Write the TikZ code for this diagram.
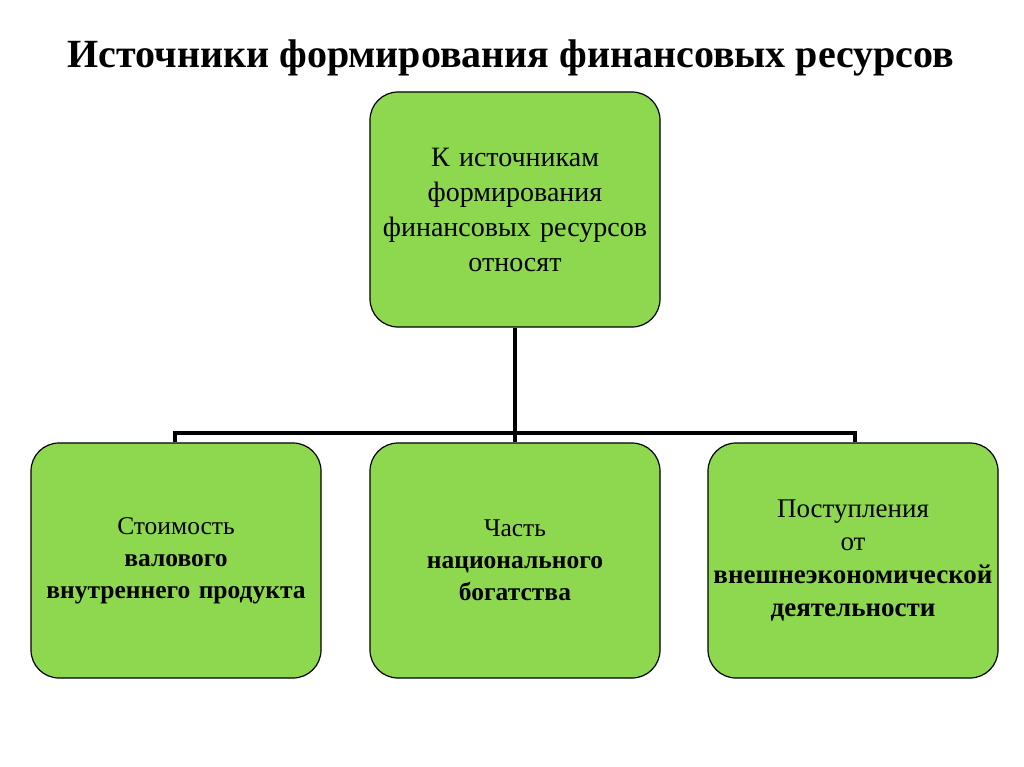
\documentclass[tikz,border=0pt]{standalone}
\usepackage{fontspec}
\setmainfont{Liberation Serif}
\definecolor{boxgreen}{HTML}{8DD84E}
\begin{document}
\begin{tikzpicture}[x=1pt,y=-1pt,
  gbox/.style={draw=black,line width=1.2pt,fill=boxgreen,rounded corners=28pt,minimum width=290pt,minimum height=235pt,inner sep=1pt,align=center,font=\fontsize{28}{35}\selectfont,text width=286pt},
  conn/.style={line width=4pt}]
\useasboundingbox[fill=white] (0,0) rectangle (1024,767);
\node[font=\fontsize{40}{44}\selectfont\bfseries] (title) at (511,58) {Источники формирования финансовых ресурсов};
\node[gbox] (top) at (515,209.5) {К источникам\\формирования\\финансовых ресурсов\\относят};
\node[gbox,font=\fontsize{25.5}{32}\selectfont] (b1) at (176,560.5) {Стоимость\\\textbf{валового}\\\textbf{внутреннего продукта}};
\node[gbox,font=\fontsize{25.5}{32}\selectfont] (b2) at (515,560.5) {Часть\\\textbf{национального}\\\textbf{богатства}};
\node[gbox,font=\fontsize{27}{33}\selectfont] (b3) at (853,560.5) {Поступления\\от\\\textbf{внешнеэкономической}\\\textbf{деятельности}};
\coordinate (j) at (515,433);
\coordinate (l) at (175,433);
\coordinate (r) at (855,433);
\draw[conn] (top.south) -- (j);
\draw[conn,line cap=rect] (l) -- (r);
\draw[conn] (l) -- (b1.north -| l);
\draw[conn] (r) -- (b3.north -| r);
\draw[conn] (j) -- (b2.north);
\end{tikzpicture}
\end{document}
